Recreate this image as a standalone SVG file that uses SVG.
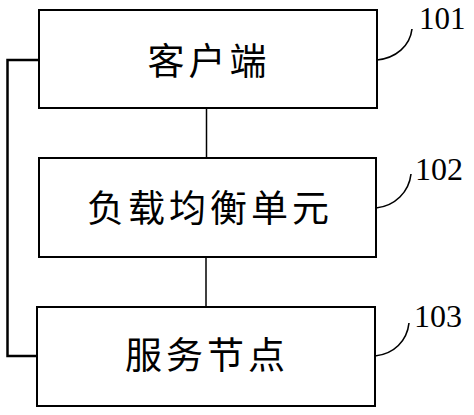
<svg xmlns="http://www.w3.org/2000/svg" width="474" height="415" viewBox="0 0 474 415">
<style>
.box{fill:#fff;stroke:#000;stroke-width:2}
.lbl{font-family:"Noto Sans CJK SC",sans-serif;font-size:37px;fill:#000;text-anchor:middle;dominant-baseline:central;letter-spacing:4px}
.num{font-family:"Liberation Serif",serif;font-size:32px;fill:#000}
.lead{fill:none;stroke:#000;stroke-width:1.6}
.conn{fill:none;stroke:#000;stroke-width:1.5}
.bus{fill:none;stroke:#000;stroke-width:2.5}
</style>
<rect width="474" height="415" fill="#fff"/>
<g id="connectors">
<line class="conn" x1="206.5" y1="108" x2="206.5" y2="158"/>
<line class="conn" x1="206" y1="257" x2="206" y2="307"/>
<polyline class="bus" points="39,60 7.5,60 7.5,356 37,356"/>
</g>
<g id="node101">
<rect class="box" x="39" y="10" width="338" height="98"/>
<text class="lbl" x="209" y="59">客户端</text>
<path class="lead" d="M377,60 C396,58 410,46 412,29"/>
<text class="num" x="419" y="29" style="font-size:31px">101</text>
</g>
<g id="node102">
<rect class="box" x="39" y="158" width="337" height="99"/>
<text class="lbl" x="210" y="206">负载均衡单元</text>
<path class="lead" d="M376,208 C395,206 409,192 411,174"/>
<text class="num" x="415" y="180">102</text>
</g>
<g id="node103">
<rect class="box" x="37" y="307" width="338" height="99"/>
<text class="lbl" x="207" y="353">服务节点</text>
<path class="lead" d="M375,356 C394,354 407,341 409,323"/>
<text class="num" x="414" y="327">103</text>
</g>
</svg>
